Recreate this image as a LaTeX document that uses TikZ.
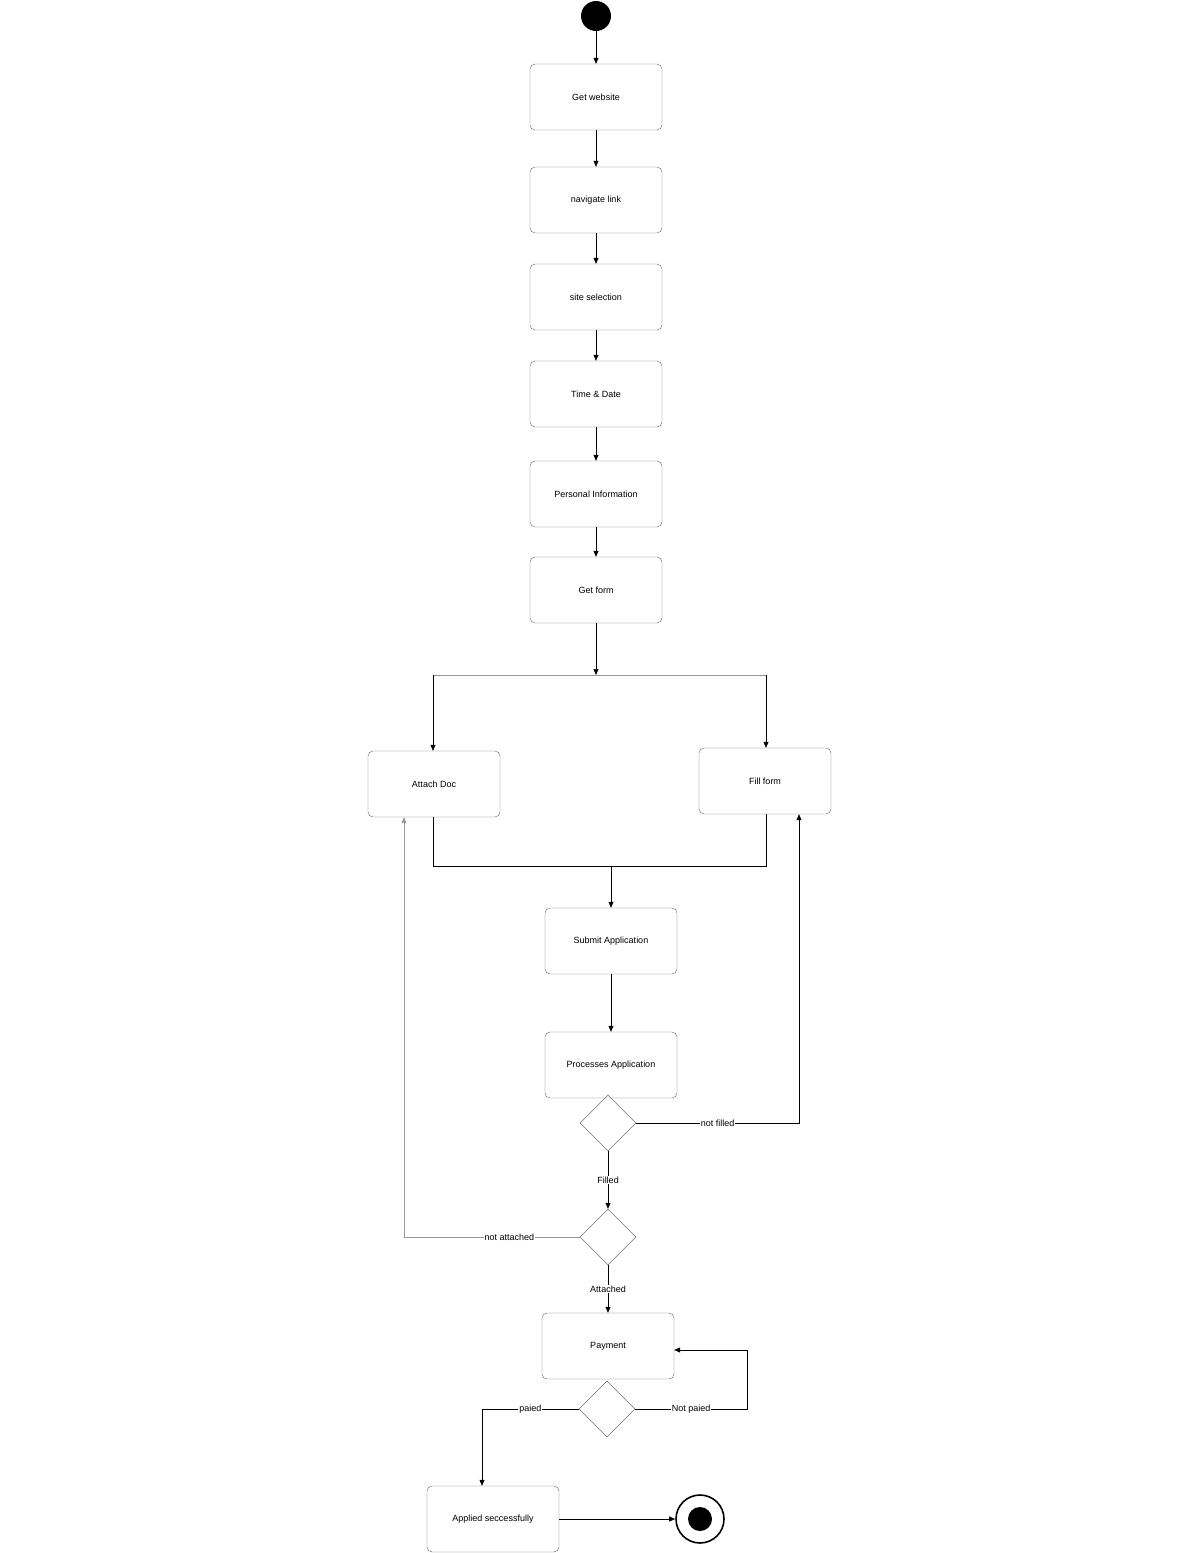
\documentclass[tikz,border=0pt]{standalone}
\usepackage{fontspec}
\setmainfont{Liberation Sans}
\usetikzlibrary{shapes.geometric,arrows.meta}
\begin{document}
\begin{tikzpicture}[x=1pt,y=-1pt,
  box/.style={draw=black!60,rounded corners=5pt,minimum width=132pt,minimum height=66pt,font=\fontsize{9}{10}\selectfont,inner sep=1pt},
  dec/.style={draw=black!70,diamond,minimum width=56pt,minimum height=56pt,inner sep=0pt},
  lbl/.style={fill=white,font=\fontsize{9}{10}\selectfont,inner sep=1pt},
  ar/.style={-{Triangle[length=6pt,width=5pt]},line width=0.6pt}]
\useasboundingbox (0,0) rectangle (1200,1553);
\node[circle,fill=black,minimum size=30pt,inner sep=0pt] (init) at (596,16) {};
\node[box] (gw) at (596,97) {Get website};
\node[box] (nl) at (596,200) {navigate link};
\node[box] (ss) at (596,297) {site selection};
\node[box] (td) at (596,394) {Time \& Date};
\node[box] (pi) at (596,494) {Personal Information};
\node[box] (gf) at (596,590) {Get form};
\coordinate (fork) at (596,675);
\node[box] (ad) at (434,784) {Attach Doc};
\node[box] (ff) at (765,781) {Fill form};
\coordinate (join) at (611,866);
\node[box] (sa) at (611,941) {Submit Application};
\node[box] (pa) at (611,1065) {Processes Application};
\node[dec] (d1) at (608,1123) {};
\node[dec] (d2) at (608,1237) {};
\node[box] (pay) at (608,1346) {Payment};
\node[dec] (d3) at (607,1409) {};
\node[box] (as) at (493,1519) {Applied seccessfully};
\node[circle,draw=black,line width=1.6pt,minimum size=48pt,inner sep=0pt] (fin) at (700,1519) {};
\node[circle,fill=black,minimum size=24pt,inner sep=0pt] at (fin) {};
\draw[ar] (init) -- (gw);
\draw[ar] (gw) -- (nl);
\draw[ar] (nl) -- (ss);
\draw[ar] (ss) -- (td);
\draw[ar] (td) -- (pi);
\draw[ar] (pi) -- (gf);
\draw[ar] (gf) -- (fork);
\draw[line width=0.6pt,black!40] (433,675) -- (766,675);
\draw[ar] (433,675) -- (ad.north -| 433,0);
\draw[ar] (766,675) -- (ff.north -| 766,0);
\draw[line width=0.6pt] (ad.south -| 433,0) -- (433,866) -- (766,866) -- (ff.south -| 766,0);
\draw[ar] (join) -- (sa);
\draw[ar] (sa) -- (pa);
\draw[ar] (d1.east) -- node[lbl]{not filled} (799,1123) -- (ff.south -| 799,0);
\draw[ar] (d1.south) -- node[lbl]{Filled} (d2.north);
\draw[ar,black!40] (d2.west) -- node[lbl,text=black,pos=0.4]{not attached} (404,1237) -- (ad.south -| 404,0);
\draw[ar] (d2.south) -- node[lbl]{Attached} (pay.north);
\draw[ar] (d3.east) -- node[lbl]{Not paied} (747,1409) -- (747,1350) -- (pay.east |- 0,1350);
\draw[ar] (d3.west) -- node[lbl]{paied} (482,1409) -- (as.north -| 482,0);
\draw[ar] (as) -- (fin);
\end{tikzpicture}
\end{document}
